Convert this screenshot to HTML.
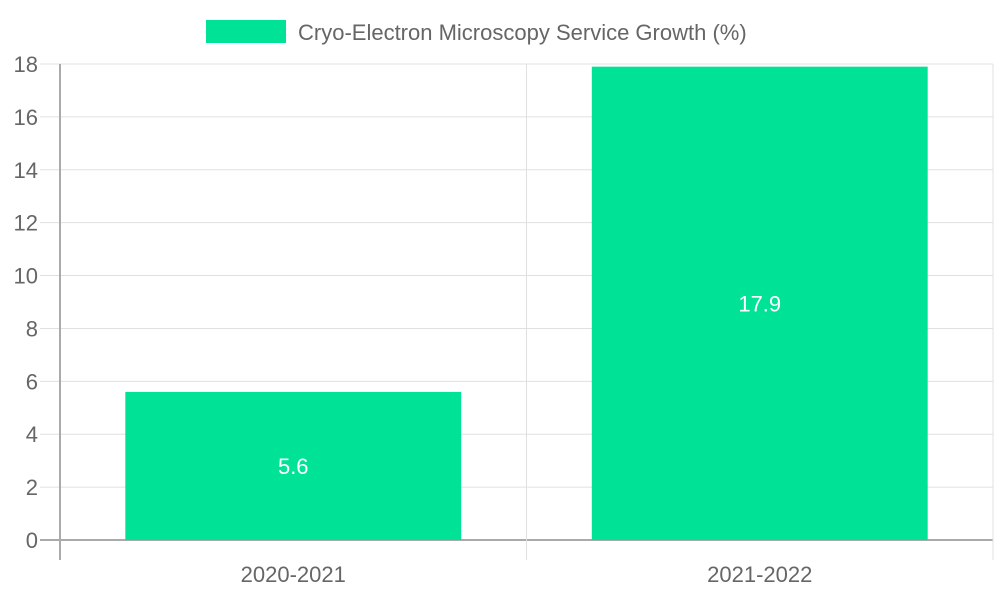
<!DOCTYPE html>
<html><head><meta charset="utf-8"><style>
body{margin:0;background:#fff;}
svg{display:block;font-family:"Liberation Sans",sans-serif;}
</style></head><body>
<svg id="c" width="1000" height="600">
<g id="legend">
<rect x="206" y="20" width="80" height="23" fill="#00e396"/>
<text x="298" y="40" font-size="22" fill="#666">Cryo-Electron Microscopy Service Growth (%)</text>
</g>
</svg>
<script>
const categories = ["2020-2021", "2021-2022"];
const values = [5.6, 17.9];
const yTicks = [0, 2, 4, 6, 8, 10, 12, 14, 16, 18];
const NS = "http://www.w3.org/2000/svg";
const svg = document.getElementById('c');
const L = 60, R = 993, T = 64, B = 540, yMax = 18;
const y = v => B - (v / yMax) * (B - T);
const bw = (R - L) / categories.length;
const x = i => L + bw * i;
function mk(tag, attrs, text) {
  const e = document.createElementNS(NS, tag);
  for (const k in attrs) e.setAttribute(k, attrs[k]);
  if (text !== undefined) e.textContent = text;
  svg.appendChild(e);
  return e;
}
yTicks.forEach(t => {
  const g = mk('line', {x1: 40, x2: R, y1: y(t), y2: y(t), stroke: t === 0 ? '#aaa' : '#e0e0e0', 'stroke-width': t === 0 ? 2 : 1});
  
  
  const l = mk('text', {x: 38, y: y(t) + 8, 'text-anchor': 'end', 'font-size': 22, fill: '#666'}, String(t));
  
  
});
for (let i = 0; i <= categories.length; i++) {
  const g = mk('line', {x1: x(i), x2: x(i), y1: T, y2: 560, stroke: i === 0 ? '#aaa' : '#e0e0e0', 'stroke-width': i === 0 ? 2 : 1});
  
  
}
categories.forEach((c, i) => {
  const w = bw * 0.72;
  const bx = x(i) + (bw - w) / 2;
  const r = mk('rect', {x: bx, y: y(values[i]), width: w, height: B - y(values[i]), fill: '#00e396'});
  
  
  const v = mk('text', {x: bx + w / 2, y: (y(values[i]) + B) / 2 + 8, 'text-anchor': 'middle', 'font-size': 22, fill: '#fff'}, String(values[i]));
  
  
  const l = mk('text', {x: x(i) + bw / 2, y: 582, 'text-anchor': 'middle', 'font-size': 22, fill: '#666'}, c);
  
  
});
svg.appendChild(document.getElementById('legend'));
</script>
</body></html>
